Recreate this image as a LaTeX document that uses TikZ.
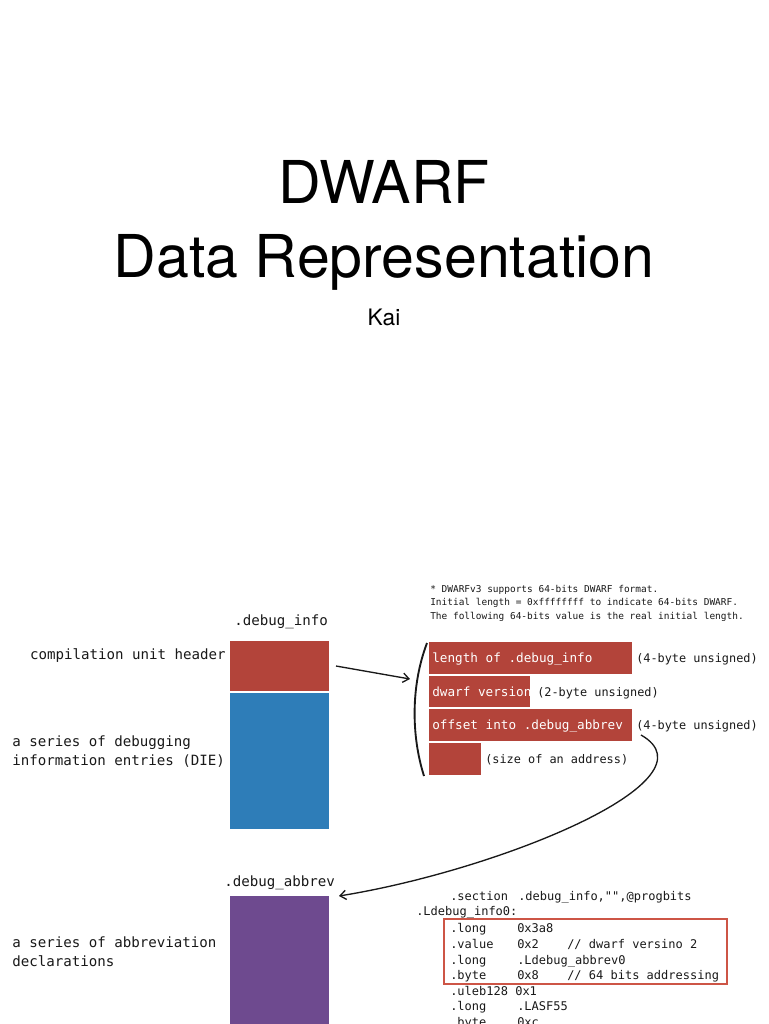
\documentclass[tikz,border=0pt]{standalone}
\usepackage{fontspec}
\setmainfont{TeX Gyre Heros}
\setmonofont{DejaVu Sans Mono}
\usetikzlibrary{arrows.meta}
\definecolor{fieldred}{RGB}{179,68,58}
\definecolor{dieblue}{RGB}{46,125,184}
\definecolor{abbrpurple}{RGB}{110,74,143}
\definecolor{hlred}{RGB}{205,85,70}
\definecolor{ink}{RGB}{25,25,25}
\begin{document}
\begin{tikzpicture}[x=0.75pt,y=-0.75pt,
  blk/.style={inner sep=0pt, outer sep=0pt, anchor=north west},
  lbl/.style={inner sep=0pt, anchor=base west, text=ink, font=\ttfamily\fontsize{10.6pt}{12pt}\selectfont},
  lblr/.style={lbl, anchor=base east},
  note/.style={inner sep=0pt, anchor=base west, text=ink, font=\ttfamily\fontsize{7.1pt}{9pt}\selectfont},
  fld/.style={inner sep=0pt, anchor=base west, text=white, font=\ttfamily\fontsize{9.5pt}{11pt}\selectfont},
  par/.style={inner sep=0pt, anchor=base west, text=ink, font=\ttfamily\fontsize{8.9pt}{11pt}\selectfont},
  code/.style={inner sep=0pt, anchor=base west, text=ink, font=\ttfamily\fontsize{9pt}{11pt}\selectfont},
  arr/.style={line width=1pt, ink, -{Straight Barb[length=4.5pt,width=7pt]}},
  title/.style={inner sep=0pt, anchor=base, text=black, font=\fontsize{44.3pt}{50pt}\selectfont}
]
\clip (0,0) rectangle (768,1024);
\fill[white] (0,0) rectangle (768,1024);

% title
\node[title] (t1) at (384,203) {DWARF};
\node[title] (t2) at (384,277) {Data Representation};
\node[title, font=\fontsize{17pt}{20pt}\selectfont] (t3) at (384,325) {Kai};

% note
\node[note] (n1) at (430,592) {* DWARFv3 supports 64-bits DWARF format.};
\node[note] (n2) at (430,605.5) {Initial length = 0xffffffff to indicate 64-bits DWARF.};
\node[note] (n3) at (430,619) {The following 64-bits value is the real initial length.};

% .debug_info section
\node[lbl] (dilbl) at (234,625) {.debug\_info};
\node[blk, fill=fieldred, minimum width=99*0.75pt, minimum height=50*0.75pt] (cuh) at (230,641) {};
\node[blk, fill=dieblue, minimum width=99*0.75pt, minimum height=136*0.75pt] (die) at (230,693) {};
\node[lblr] (cuhlbl) at (226,659) {compilation unit header};
\node[lbl] (dielbl1) at (12,746.7) {a series of debugging};
\node[lbl] (dielbl2) at (12,765.7) {information entries (DIE)};

% header fields
\node[blk, fill=fieldred, minimum width=203*0.75pt, minimum height=32*0.75pt] (f1) at (429,642) {};
\node[blk, fill=fieldred, minimum width=101*0.75pt, minimum height=31*0.75pt] (f2) at (429,676) {};
\node[blk, fill=fieldred, minimum width=203*0.75pt, minimum height=32*0.75pt] (f3) at (429,709) {};
\node[blk, fill=fieldred, minimum width=52*0.75pt, minimum height=32*0.75pt] (f4) at (429,743) {};
\node[fld] (f1t) at (432,662) {length of .debug\_info};
\node[fld] (f2t) at (432,696) {dwarf version};
\node[fld] (f3t) at (432,729.5) {offset into .debug\_abbrev};
\node[par] (p1) at (636,662) {(4-byte unsigned)};
\node[par] (p2) at (537,696) {(2-byte unsigned)};
\node[par] (p3) at (636,729.5) {(4-byte unsigned)};
\node[par] (p4) at (485,763) {(size of an address)};

% bracket
\draw[line width=1.4pt, ink] (427,643) .. controls (411,685) and (411,735) .. (424,776);
\coordinate (brk) at (410,679);
\draw[arr] ([xshift=7*0.75pt]cuh.east) -- (brk);

% .debug_abbrev section
\node[lbl] (ablbl) at (224,886.7) {.debug\_abbrev};
\node[blk, fill=abbrpurple, minimum width=99*0.75pt, minimum height=140*0.75pt] (abbr) at (230,896) {};
\node[lbl] (ablbl1) at (12,947.3) {a series of abbreviation};
\node[lbl] (ablbl2) at (12,966.7) {declarations};

% curved arrow
\coordinate (cs) at (641,735);
\draw[arr] (cs) .. controls (720,780) and (500,870) .. ([xshift=10*0.75pt]abbr.north east);

% code
\node[blk, draw=hlred, line width=0.8pt, minimum width=283*0.75pt, minimum height=65*0.75pt] (hl) at (444,919) {};
\node[code] (c1a) at (450,900) {.section};
\node[code] (c1b) at (518,900) {.debug\_info,"",@progbits};
\node[code] (c2) at (416,915.7) {.Ldebug\_info0:};
\node[code] (c3a) at (450,932) {.long};
\node[code] (c3b) at (517,932) {0x3a8};
\node[code] (c4a) at (450,948) {.value};
\node[code] (c4b) at (517,948) {0x2};
\node[code] (c4c) at (567,948) {// dwarf versino 2};
\node[code] (c5a) at (450,964) {.long};
\node[code] (c5b) at (517,964) {.Ldebug\_abbrev0};
\node[code] (c6a) at (450,979.5) {.byte};
\node[code] (c6b) at (517,979.5) {0x8};
\node[code] (c6c) at (567,979.5) {// 64 bits addressing};
\node[code] (c7) at (450,995) {.uleb128 0x1};
\node[code] (c8a) at (450,1010.7) {.long};
\node[code] (c8b) at (517,1010.7) {.LASF55};
\node[code] (c9a) at (450,1026.5) {.byte};
\node[code] (c9b) at (517,1026.5) {0xc};
\end{tikzpicture}
\end{document}
